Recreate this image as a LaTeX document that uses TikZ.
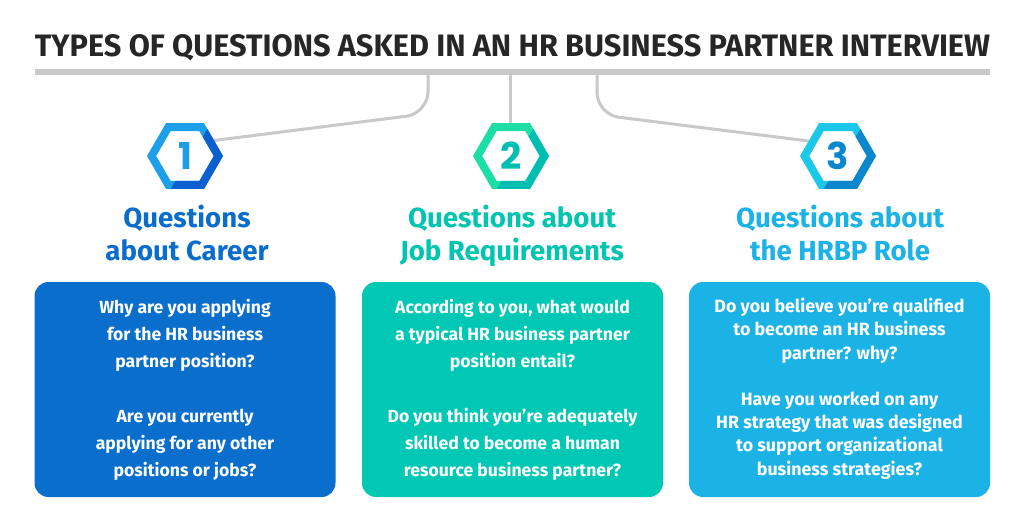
\documentclass[tikz,border=0pt]{standalone}
\usepackage{fontspec}
\usepackage{graphicx}
\setmainfont{Fira Sans}
\newfontfamily\numfont{Poppins}
\definecolor{lgray}{HTML}{C9C9C9}
\definecolor{titlec}{HTML}{262626}
\definecolor{cAl}{HTML}{1E9FE9}\definecolor{cAd}{HTML}{0B5FD1}\definecolor{cAt}{HTML}{1E9DE6}
\definecolor{cAh}{HTML}{0A6CCB}\definecolor{cAb}{HTML}{0A6ECC}
\definecolor{cBl}{HTML}{1DDFA5}\definecolor{cBd}{HTML}{00BFB2}\definecolor{cBt}{HTML}{00BFB0}
\definecolor{cBh}{HTML}{00C5AF}\definecolor{cBb}{HTML}{00C8B4}
\definecolor{cCl}{HTML}{1CC8EA}\definecolor{cCd}{HTML}{0C86CC}\definecolor{cCt}{HTML}{0A88CE}
\definecolor{cCh}{HTML}{1BB3E6}\definecolor{cCb}{HTML}{1BB2E5}
\newcommand\hexpath{(38,0) -- (19,-32.9) -- (-19,-32.9) -- (-38,0) -- (-19,32.9) -- (19,32.9) -- cycle
 (28.8,0) -- (14.4,-24.9) -- (-14.4,-24.9) -- (-28.8,0) -- (-14.4,24.9) -- (14.4,24.9) -- cycle}
\newcommand\hexring[4]{%
 \begin{scope}[shift={(#1,#2)}]
  \fill[#3, even odd rule] \hexpath;
  \begin{scope}
   \clip (33.4,-45) -- (60,-45) -- (60,45) -- (-21.7,45) -- cycle;
   \fill[#4, even odd rule] \hexpath;
  \end{scope}
 \end{scope}}
\begin{document}
\begin{tikzpicture}[x=1pt,y=-1pt,
  conn/.style={draw=lgray, line width=3pt, rounded corners=22pt},
  head/.style={anchor=base, inner sep=0, font=\bfseries\fontsize{27.6}{30}\selectfont},
  bodytxt/.style={anchor=base, inner sep=0, text=white, font=\bfseries\fontsize{17.6}{20}\selectfont},
  bodysm/.style={anchor=base, inner sep=0, text=white, font=\bfseries\fontsize{17.8}{20}\selectfont},
  qbox/.style={rounded corners=14pt, minimum width=301, minimum height=215, inner sep=0},
  numtxt/.style={inner sep=0, font=\numfont\bfseries\fontsize{37}{40}\selectfont}]
\useasboundingbox (0,0) rectangle (1024,529);
\fill[white] (0,0) rectangle (1024,529);
% title and bar
\node[anchor=base, inner sep=0, text=titlec] (title) at (512.5,57)
  {\resizebox{955pt}{22pt}{\bfseries TYPES OF QUESTIONS ASKED IN AN HR BUSINESS PARTNER INTERVIEW}};
\node[fill=lgray, minimum width=955, minimum height=6, inner sep=0] (bar) at (512.5,72) {};
% hex centres and connector points
\coordinate (h1) at (185,156);
\coordinate (h2) at (511,156);
\coordinate (h3) at (838,156);
\coordinate (k1) at (428,74);
\coordinate (k2) at (510,74);
\coordinate (k3) at (597,74);
\coordinate (e1) at (214,140.5);
\coordinate (e2) at (510,124);
\coordinate (e3) at (808.6,141);
\draw[conn] (k1) -- (428,113.5) -- (e1);
\draw[conn] (k2) -- (e2);
\draw[conn] (k3) -- (597,114.5) -- (e3);
% hexagons
\hexring{185}{156}{cAl}{cAd}
\hexring{511}{156}{cBl}{cBd}
\hexring{838}{156}{cCl}{cCd}
\node[numtxt, text=cAt] (n1) at (h1) {1};
\node[numtxt, text=cBt] (n2) at (h2) {2};
\node[numtxt, text=cCt] (n3) at (h3) {3};
% headings
\node[head, text=cAh] (t1a) at (187,228) {Questions};
\node[head, text=cAh] (t1b) at (187,260) {about Career};
\node[head, text=cBh] (t2a) at (512,228) {Questions about};
\node[head, text=cBh] (t2b) at (512,260) {Job Requirements};
\node[head, text=cCh] (t3a) at (840,228) {Questions about};
\node[head, text=cCh] (t3b) at (840,260) {the HRBP Role};
% boxes
\node[qbox, fill=cAb] (b1) at (185,389.5) {};
\node[qbox, fill=cBb] (b2) at (512.5,389.5) {};
\node[qbox, fill=cCb] (b3) at (839.5,389.5) {};
% box 1 text
\foreach \t [count=\i] in {Why are you applying, for the HR business, partner position?}
  \node[bodytxt] (pa\i) at (185,{313+(\i-1)*27}) {\t};
\foreach \t [count=\i] in {Are you currently, applying for any other, positions or jobs?}
  \node[bodytxt] (pb\i) at (185,{422+(\i-1)*27}) {\t};
% box 2 text
\foreach \t [count=\i] in {{According to you, what would}, a typical HR business partner, position entail?}
  \node[bodytxt] (qa\i) at (512.5,{313+(\i-1)*27}) {\t};
\foreach \t [count=\i] in {Do you think you’re adequately, skilled to become a human, resource business partner?}
  \node[bodytxt] (qb\i) at (512.5,{422+(\i-1)*27}) {\t};
% box 3 text
\foreach \t [count=\i] in {Do you believe you’re qualified, to become an HR business, partner? why?}
  \node[bodysm] (ra\i) at (839.5,{312+(\i-1)*23.6}) {\t};
\foreach \t [count=\i] in {Have you worked on any, HR strategy that was designed, to support organizational, business strategies?}
  \node[bodysm] (rb\i) at (839.5,{405+(\i-1)*23.4}) {\t};
\end{tikzpicture}
\end{document}
